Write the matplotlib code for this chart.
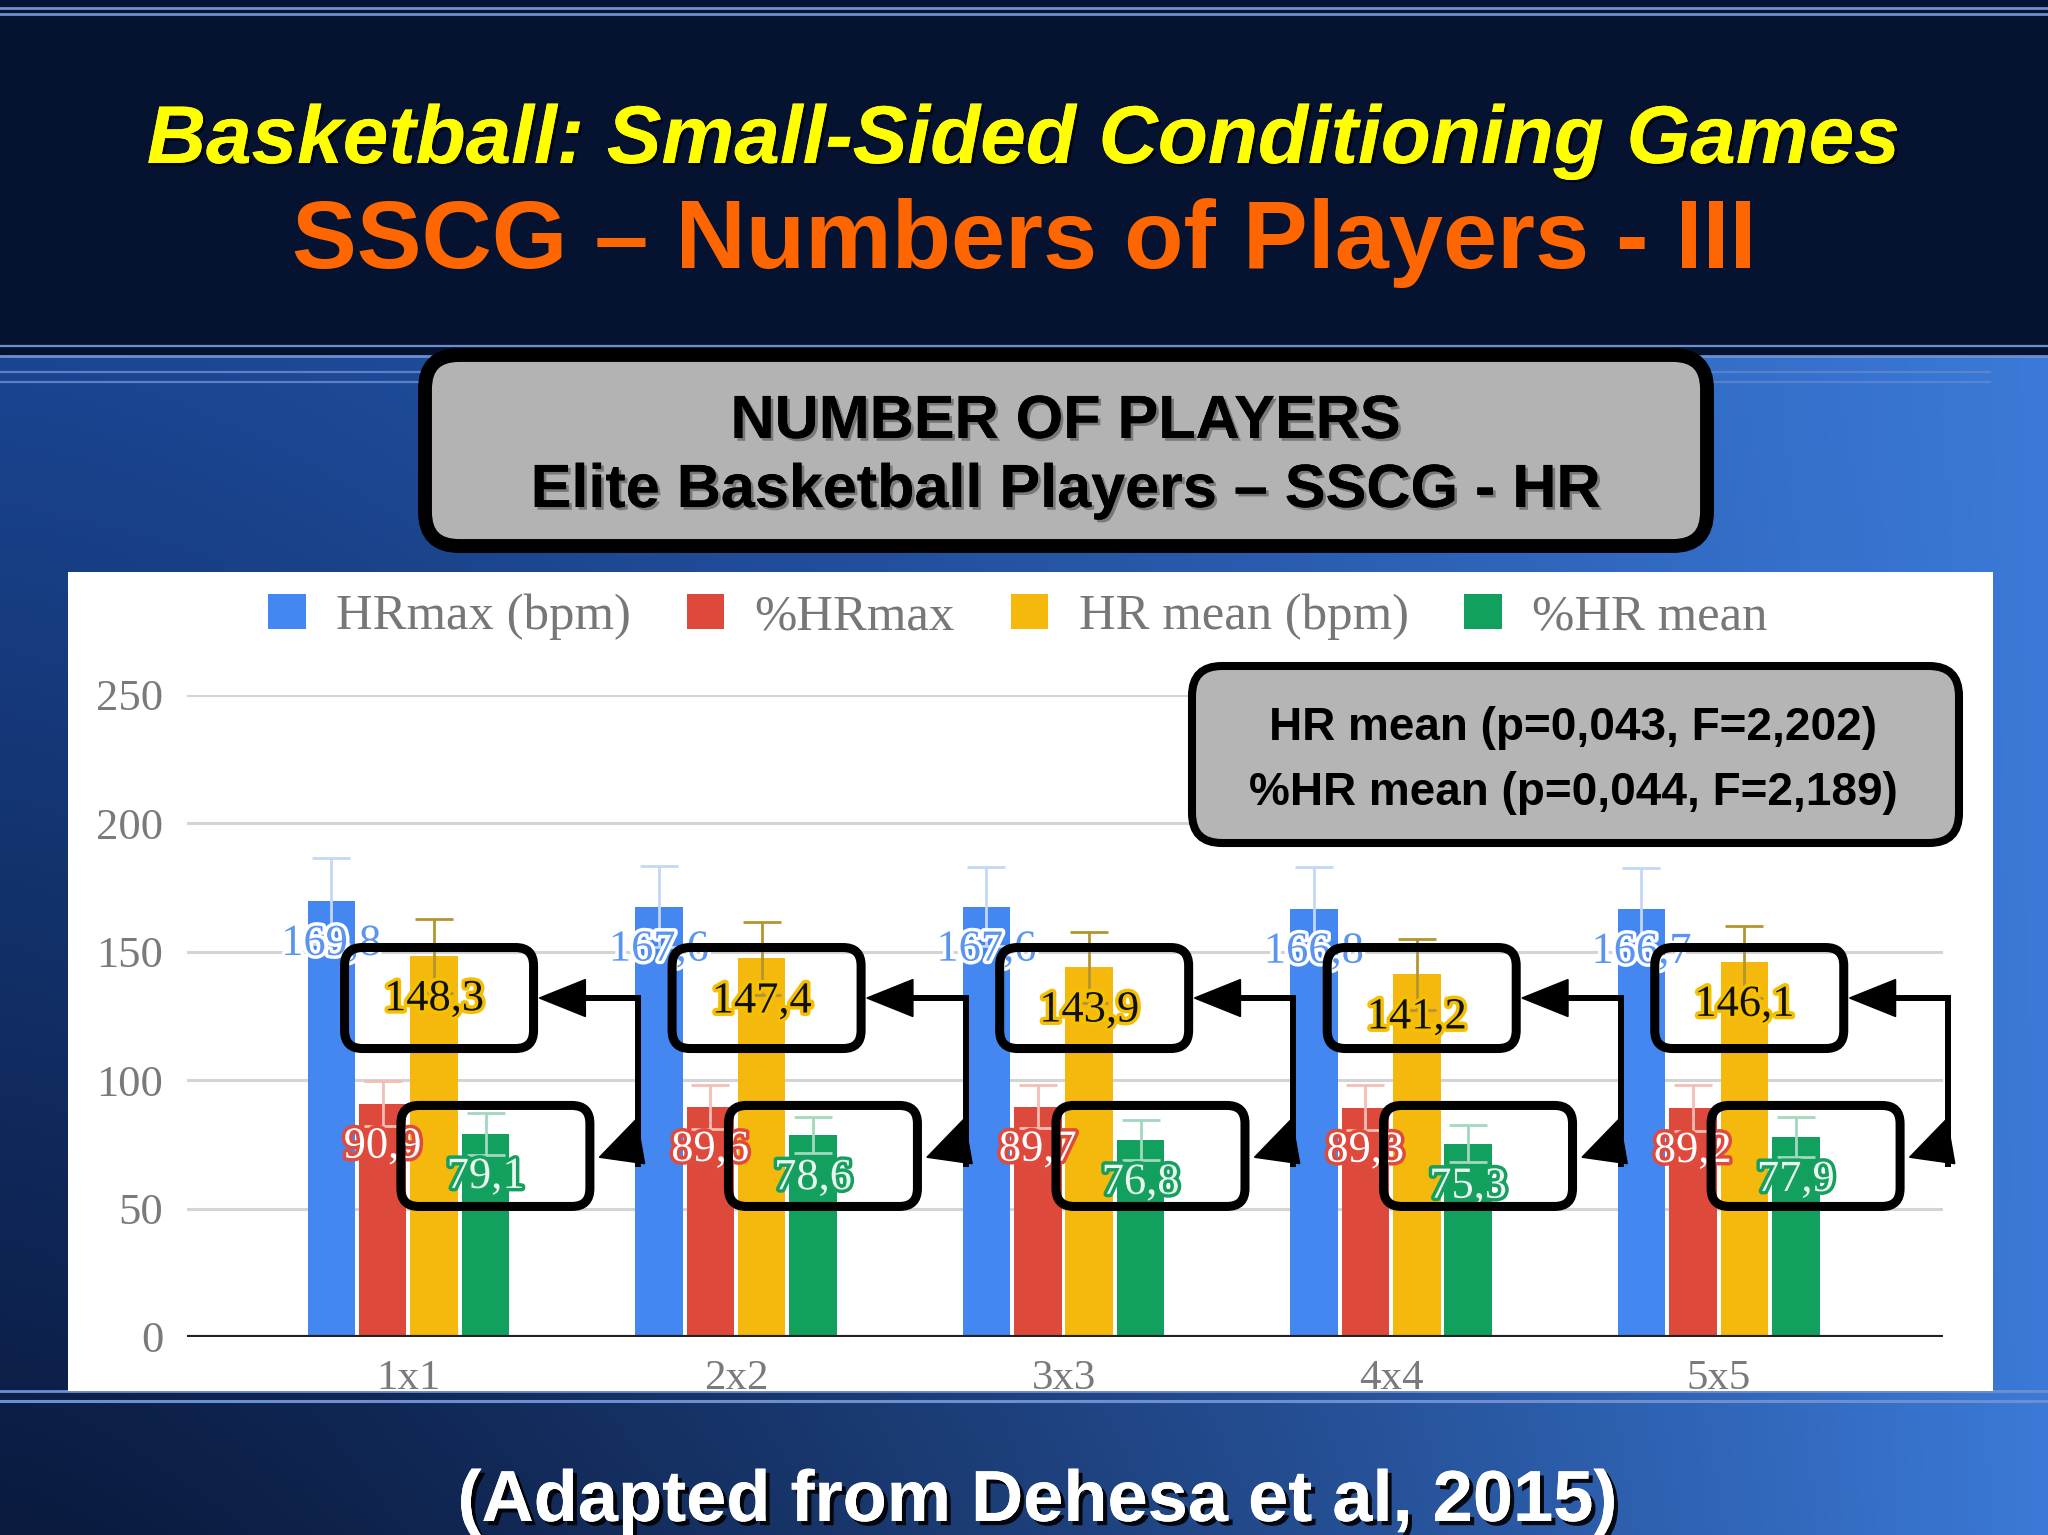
import matplotlib
matplotlib.use('Agg')
import matplotlib.pyplot as plt
import numpy as np
import matplotlib.patheffects as pe
from matplotlib.patches import FancyBboxPatch, Polygon, Rectangle

W, H = 2048, 1535

# chart data
categories = ['1x1', '2x2', '3x3', '4x4', '5x5']
series_names = ['HRmax (bpm)', '%HRmax', 'HR mean (bpm)', '%HR mean']
hr_max = [169.8, 167.6, 167.6, 166.8, 166.7]
hr_max_pct = [90.9, 89.6, 89.7, 89.3, 89.2]
hr_mean = [148.3, 147.4, 143.9, 141.2, 146.1]
hr_mean_pct = [79.1, 78.6, 76.8, 75.3, 77.9]
hr_max_sd = [16.7, 15.8, 15.4, 16.2, 15.9]
hr_max_pct_sd = [8.8, 8.5, 8.4, 8.8, 8.9]
hr_mean_sd = [14.5, 14.2, 13.8, 13.8, 13.9]
hr_mean_pct_sd = [8.1, 7.0, 7.7, 7.3, 7.8]
y_ticks = [0, 50, 100, 150, 200, 250]

title_1 = 'Basketball: Small-Sided Conditioning Games'
title_2 = 'SSCG – Numbers of Players - III'
box_lines = ['NUMBER OF PLAYERS', 'Elite Basketball Players – SSCG - HR']
stats_lines = ['HR mean (p=0,043, F=2,202)', '%HR mean (p=0,044, F=2,189)']
source = '(Adapted from Dehesa et al, 2015)'

colors = ['#4487f0', '#dd4a3c', '#f5b80c', '#12a05e']
err_colors = ['#c4d7f6', '#f3bdb6', '#b39530', '#a3d8bf']
label_fg = ['#5b95f0', 'white', '#111111', '#e8f6ee']
label_halo = ['white', '#e04a3c', '#f5c000', '#16a060']

SANS = 'Liberation Sans'
SERIF = 'Liberation Serif'


def rgb(h):
    return np.array([int(h[i:i + 2], 16) / 255 for i in (1, 3, 5)])


fig = plt.figure(figsize=(W / 100, H / 100), dpi=100)

# ---- slide background, in pixel coordinates
bg = fig.add_axes([0, 0, 1, 1])
bg.set_xlim(0, W)
bg.set_ylim(H, 0)
bg.axis('off')

ys = np.arange(H)
t = np.clip((ys - 357) / (H - 357), 0, 1)[:, None, None]
left = rgb('#1a4592') * (1 - t) + rgb('#0a1a3e') * t
s = (np.linspace(0, 1, W) ** 1.4)[None, :, None]
img = left * (1 - s) + rgb('#3b7ad8') * s
img[:357] = rgb('#061330')
bg.imshow(img, extent=(0, W, H, 0), aspect='auto', interpolation='bilinear', zorder=0)

line_c = '#6d8fcf'
for yy, lw in [(8, 2.0), (14, 2.0), (346, 1.6), (356, 2.0), (1391, 2.0), (1401, 2.2)]:
    bg.plot([0, W], [yy, yy], color=line_c, lw=lw, zorder=1)
for yy in (372, 382):
    bg.plot([0, 430], [yy, yy], color=line_c, lw=1.6, alpha=0.8, zorder=1)
    bg.plot([1705, 1990], [yy, yy], color=line_c, lw=1.6, alpha=0.6, zorder=1)

# white chart panel
bg.add_patch(Rectangle((68, 572), 1925, 819, fc='white', ec='none', zorder=2))

# header box
bg.add_patch(FancyBboxPatch((425, 355), 1282, 191, boxstyle='round,pad=0,rounding_size=34',
                            fc='#b3b3b3', ec='black', lw=10, zorder=3))
shadow_gray = [pe.withSimplePatchShadow(offset=(2, -2), shadow_rgbFace='#6a6a6a', alpha=0.8), pe.Normal()]
bg.text(1066, 438, box_lines[0], ha='center', va='baseline', fontsize=44, fontweight='bold',
        family=SANS, color='black', path_effects=shadow_gray, zorder=4)
bg.text(1066, 507, box_lines[1], ha='center', va='baseline', fontsize=44, fontweight='bold',
        family=SANS, color='black', path_effects=shadow_gray, zorder=4)

# titles
bg.text(1024, 163, title_1, ha='center', va='baseline', fontsize=59, fontweight='bold',
        style='italic', family=SANS, color='#ffff00', zorder=4,
        path_effects=[pe.withSimplePatchShadow(offset=(2, -2), shadow_rgbFace='black', alpha=0.6), pe.Normal()])
bg.text(1024, 268, title_2, ha='center', va='baseline', fontsize=70, fontweight='bold',
        family=SANS, color='#ff6600', zorder=4)
bg.text(1038, 1521, source, ha='center', va='baseline', fontsize=52, fontweight='bold',
        family=SANS, color='white', zorder=4,
        path_effects=[pe.withSimplePatchShadow(offset=(3, -3), shadow_rgbFace='black', alpha=0.9), pe.Normal()])

# ---- the bar chart
ax = fig.add_axes([187 / W, (H - 1337) / H, (1943 - 187) / W, (1337 - 695) / H])
ax.patch.set_visible(False)
ax.set_xlim(-0.676, 4.685)
ax.set_ylim(0, 250)
for sp in ax.spines.values():
    sp.set_visible(False)

x = np.arange(len(categories))
step, bw = 0.157, 0.145
offsets = (np.arange(4) - 1.5) * step
values = [hr_max, hr_max_pct, hr_mean, hr_mean_pct]
sds = [hr_max_sd, hr_max_pct_sd, hr_mean_sd, hr_mean_pct_sd]

handles = []
for i in range(4):
    xp = x + offsets[i]
    b = ax.bar(xp, values[i], width=bw, color=colors[i], zorder=2, label=series_names[i])
    handles.append(b)
    ax.errorbar(xp, values[i], yerr=sds[i], fmt='none', ecolor=err_colors[i],
                elinewidth=2.0, capsize=13.5, capthick=2.0, zorder=3)
    for xi, v in zip(xp, values[i]):
        ax.annotate(f'{v:.1f}'.replace('.', ','), (xi, v), xytext=(0, -31),
                    textcoords='offset points', ha='center', va='center',
                    fontsize=32, family=SERIF, color=label_fg[i], zorder=4,
                    path_effects=[pe.withStroke(linewidth=5, foreground=label_halo[i])])

ax.set_yticks(y_ticks)
ax.set_xticks(x)
ax.set_xticklabels(categories)
ax.yaxis.grid(True, color='#d4d4d4', lw=2.2)
ax.set_axisbelow(True)
ax.axhline(0, color='#222222', lw=3, zorder=3)
ax.tick_params(axis='y', length=0, pad=17, labelsize=32, labelcolor='#7a7a7a')
ax.tick_params(axis='x', length=0, pad=16, labelsize=31, labelcolor='#7a7a7a')
for lab in ax.get_xticklabels() + ax.get_yticklabels():
    lab.set_family(SERIF)

# callout boxes and elbow arrows (HR mean <-> %HR mean)
px_x = (1943 - 187) / (4.685 + 0.676)   # pixels per category unit
px_y = (1337 - 695) / 250                # pixels per bpm unit
aspect = px_x / px_y
box_w, box_h = 189 / px_x, 101 / px_y
stroke = 4.5 / px_x
for xi in x:
    ux = xi + offsets[2] + 0.015
    lx = xi + offsets[3] + 0.03
    uy, ly = 132, 70.5
    for cx, cy in [(ux, uy), (lx, ly)]:
        ax.add_patch(FancyBboxPatch((cx - box_w / 2, cy - box_h / 2), box_w, box_h,
                                    boxstyle='round,pad=0,rounding_size=0.055',
                                    mutation_aspect=aspect, fc='none', ec='black',
                                    lw=6.5, zorder=5, clip_on=False))
    tip = ux + box_w / 2 + stroke + 0.004
    vx = ux + box_w / 2 + stroke + 100 / px_x
    ax.add_patch(Polygon([(tip, uy), (tip + 46 / px_x, uy + 18.5 / px_y),
                          (tip + 46 / px_x, uy - 18.5 / px_y)],
                         closed=True, fc='black', ec='black', lw=1, zorder=5, clip_on=False))
    ax.plot([tip + 40 / px_x, vx, vx, vx], [uy, uy, uy, ly - 3.0], color='black', lw=4.3,
            solid_joinstyle='miter', zorder=5, clip_on=False)
    ax.add_patch(Polygon([(vx - 0.118, ly - 0.5), (vx + 0.02, ly - 3.0), (vx - 0.004, ly + 14.5)],
                         closed=True, fc='black', ec='black', lw=1, zorder=5, clip_on=False))

fig.legend(handles, series_names, loc='center', bbox_to_anchor=(1018 / W, 1 - 617 / H),
           ncol=4, frameon=False, prop={'family': SERIF, 'size': 36.5},
           labelcolor='#777777', handlelength=0.74, handleheight=0.68,
           handletextpad=0.6, columnspacing=1.1)

# ---- stats box overlay
ov = fig.add_axes([0, 0, 1, 1], zorder=10)
ov.set_xlim(0, W)
ov.set_ylim(H, 0)
ov.axis('off')
ov.patch.set_visible(False)
ov.add_patch(FancyBboxPatch((1192, 666), 767, 177, boxstyle='round,pad=0,rounding_size=30',
                            fc='#b5b5b5', ec='black', lw=5.8))
ov.text(1573, 740, stats_lines[0], ha='center', va='baseline', fontsize=33,
        fontweight='bold', family=SANS, color='black')
ov.text(1573, 805, stats_lines[1], ha='center', va='baseline', fontsize=33,
        fontweight='bold', family=SANS, color='black')

fig.savefig('out.png', dpi=100)
